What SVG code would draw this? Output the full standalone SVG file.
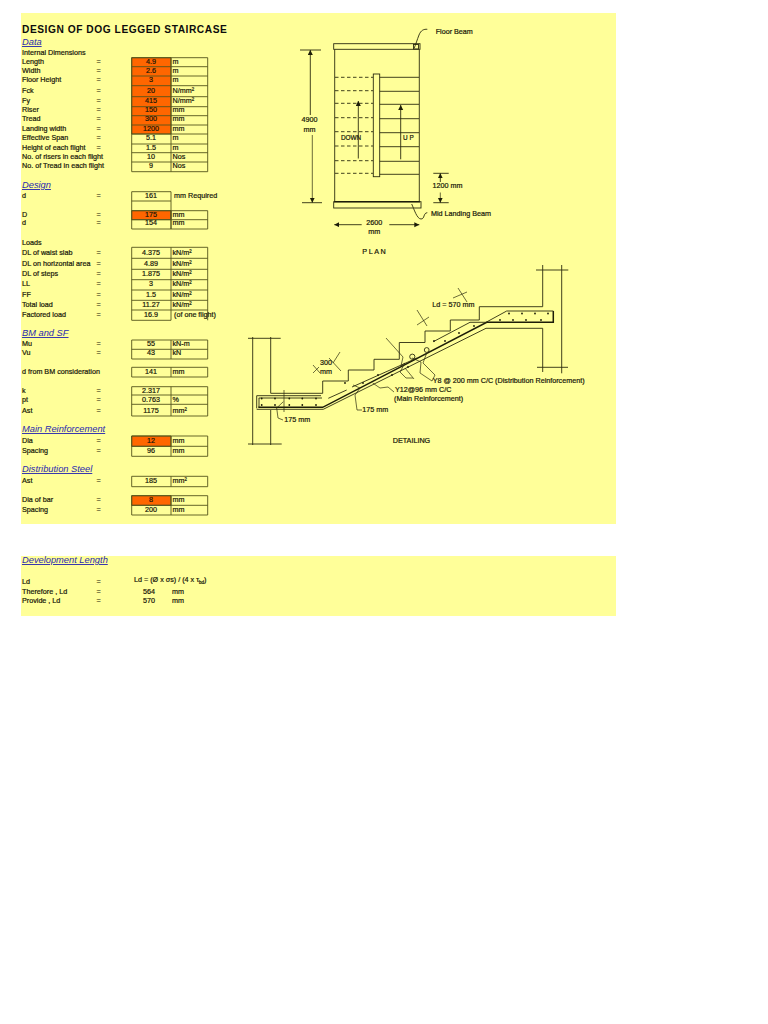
<svg xmlns="http://www.w3.org/2000/svg" width="768" height="1024" viewBox="0 0 768 1024">
<style>
text{font-family:"Liberation Sans",Arial,sans-serif;font-size:7.2px;fill:#161608;stroke:#161608;stroke-width:.2}
.c{text-anchor:middle}
.h{font-size:9.3px;font-style:italic;fill:#2a2ab0;stroke:none;text-decoration:underline}
.t{font-size:10.2px;font-weight:bold;stroke:none;fill:#0c0c0c;letter-spacing:.55px}
.d{font-size:6.4px}
.a{fill:#ff6600;stroke:#55551c;stroke-width:.9}
.n{fill:none;stroke:#55551c;stroke-width:.9}
.l{fill:none;stroke:#2c2c10;stroke-width:.9}
.k{fill:none;stroke:#1c1c08;stroke-width:1.5}
.s{fill:none;stroke:#2c2c10;stroke-width:.7}
.w{fill:none;stroke:#2c2c10;stroke-width:.9;stroke-dasharray:3.5 2.5}
.o{fill:#1c1c08;stroke:none}
</style>
<defs>
<marker id="ah" markerWidth="6" markerHeight="6" refX="5" refY="2.5" orient="auto-start-reverse" markerUnits="userSpaceOnUse"><path d="M0 0L5 2.5L0 5Z" fill="#1c1c08"/></marker>
</defs>
<rect width="768" height="1024" fill="#fff"/>
<rect x="21" y="13" width="595" height="511" fill="#ffff99"/>
<rect x="21" y="556" width="595" height="60" fill="#ffff99"/>

<g id="tables">
<path class="a" d="M131.7 57.7H171V134H131.7Z"/>
<path class="a" d="M131.7 210.7H171V219.7H131.7ZM131.7 436H171V446.3H131.7ZM131.7 495.7H171V505.3H131.7Z"/>
<path class="n" d="M131.7 57.7H207.7V171.7H131.7ZM171 57.7V171.7M131.7 66.7H207.7M131.7 76H207.7M131.7 85.7H207.7M131.7 96.7H207.7M131.7 106.7H207.7M131.7 115.7H207.7M131.7 125H207.7M131.7 134H207.7M131.7 144H207.7M131.7 152.7H207.7M131.7 162H207.7"/>
<path class="n" d="M131.7 191.7H171V229H131.7ZM131.7 201H171M131.7 210.7H207.7V229H171M171 210.7V229M131.7 219.7H207.7"/>
<path class="n" d="M131.7 247.3H207.7V320.3M131.7 247.3V320.3H171V247.3M131.7 258.3H207.7M131.7 269.3H207.7M131.7 279.7H207.7M131.7 290H207.7M131.7 300.3H207.7M131.7 310H207.7"/>
<path class="n" d="M131.7 340H207.7V359H131.7ZM171 340V359M131.7 349.3H207.7"/>
<path class="n" d="M131.7 367.3H207.7V377H131.7ZM171 367.3V377"/>
<path class="n" d="M131.7 386.7H207.7V416H131.7ZM171 386.7V416M131.7 395H207.7M131.7 404.3H207.7"/>
<path class="n" d="M131.7 436H207.7V456.3H131.7ZM171 436V456.3M131.7 446.3H207.7"/>
<path class="n" d="M131.7 476.3H207.7V486.7H131.7ZM171 476.3V486.7"/>
<path class="n" d="M131.7 495.7H207.7V515H131.7ZM171 495.7V515M131.7 505.3H207.7"/>
</g>

<g id="headings">
<text class="t" x="22" y="33">DESIGN OF DOG LEGGED STAIRCASE</text>
<text class="h" x="22" y="45">Data</text>
<text class="h" x="22" y="188">Design</text>
<text class="h" x="22" y="336">BM and SF</text>
<text class="h" x="22" y="432">Main Reinforcement</text>
<text class="h" x="22" y="472">Distribution Steel</text>
<text class="h" x="22" y="563">Development Length</text>
</g>

<g id="labels">
<text x="22" y="54.5">Internal Dimensions</text>
<text x="22" y="63.5">Length</text><text x="22" y="72.5">Width</text><text x="22" y="81.8">Floor Height</text><text x="22" y="93">Fck</text><text x="22" y="103">Fy</text><text x="22" y="112.3">Riser</text><text x="22" y="121">Tread</text><text x="22" y="131">Landing width</text><text x="22" y="140.3">Effective Span</text><text x="22" y="149.5">Height of each flight</text><text x="22" y="158.5">No. of risers in each flight</text><text x="22" y="167.5">No. of Tread in each flight</text>
<text x="22" y="198">d</text><text x="22" y="216.5">D</text><text x="22" y="225">d</text><text x="22" y="244.5">Loads</text>
<text x="22" y="254.8">DL of waist slab</text><text x="22" y="266">DL on horizontal area</text><text x="22" y="276">DL of steps</text><text x="22" y="285.8">LL</text><text x="22" y="296.8">FF</text><text x="22" y="307">Total load</text><text x="22" y="316.5">Factored load</text>
<text x="22" y="345.8">Mu</text><text x="22" y="355">Vu</text><text x="22" y="374">d from BM consideration</text><text x="22" y="392.5">k</text><text x="22" y="401.8">pt</text><text x="22" y="412.5">Ast</text>
<text x="22" y="443">Dia</text><text x="22" y="453">Spacing</text><text x="22" y="483">Ast</text><text x="22" y="501.5">Dia of bar</text><text x="22" y="511.5">Spacing</text>
<text x="22" y="584">Ld</text><text x="22" y="593.5">Therefore , Ld</text><text x="22" y="602.5">Provide , Ld</text>
</g>

<g id="equals">
<text x="96.5" y="63.5">=</text><text x="96.5" y="72.5">=</text><text x="96.5" y="81.8">=</text><text x="96.5" y="93">=</text><text x="96.5" y="103">=</text><text x="96.5" y="112.3">=</text><text x="96.5" y="121">=</text><text x="96.5" y="131">=</text><text x="96.5" y="140.3">=</text><text x="96.5" y="149.5">=</text>
<text x="96.5" y="198">=</text><text x="96.5" y="216.5">=</text><text x="96.5" y="225">=</text><text x="96.5" y="254.8">=</text><text x="96.5" y="266">=</text><text x="96.5" y="276">=</text><text x="96.5" y="285.8">=</text><text x="96.5" y="296.8">=</text><text x="96.5" y="307">=</text><text x="96.5" y="316.5">=</text>
<text x="96.5" y="345.8">=</text><text x="96.5" y="355">=</text><text x="96.5" y="392.5">=</text><text x="96.5" y="401.8">=</text><text x="96.5" y="412.5">=</text><text x="96.5" y="443">=</text><text x="96.5" y="453">=</text><text x="96.5" y="483">=</text><text x="96.5" y="501.5">=</text><text x="96.5" y="511.5">=</text>
<text x="96.5" y="584">=</text><text x="96.5" y="593.5">=</text><text x="96.5" y="602.5">=</text>
</g>

<g id="values">
<text class="c" x="151" y="63.5">4.9</text><text class="c" x="151" y="72.5">2.6</text><text class="c" x="151" y="81.8">3</text><text class="c" x="151" y="93">20</text><text class="c" x="151" y="103">415</text><text class="c" x="151" y="112.3">150</text><text class="c" x="151" y="121">300</text><text class="c" x="151" y="131">1200</text><text class="c" x="151" y="140.3">5.1</text><text class="c" x="151" y="149.5">1.5</text><text class="c" x="151" y="158.5">10</text><text class="c" x="151" y="167.5">9</text>
<text class="c" x="151" y="198">161</text><text class="c" x="151" y="216.5">175</text><text class="c" x="151" y="225">154</text>
<text class="c" x="151" y="254.8">4.375</text><text class="c" x="151" y="266">4.89</text><text class="c" x="151" y="276">1.875</text><text class="c" x="151" y="285.8">3</text><text class="c" x="151" y="296.8">1.5</text><text class="c" x="151" y="307">11.27</text><text class="c" x="151" y="316.5">16.9</text>
<text class="c" x="151" y="345.8">55</text><text class="c" x="151" y="355">43</text><text class="c" x="151" y="374">141</text><text class="c" x="151" y="392.5">2.317</text><text class="c" x="151" y="401.8">0.763</text><text class="c" x="151" y="412.5">1175</text>
<text class="c" x="151" y="443">12</text><text class="c" x="151" y="453">96</text><text class="c" x="151" y="483">185</text><text class="c" x="151" y="501.5">8</text><text class="c" x="151" y="511.5">200</text>
<text x="134" y="582">Ld = (Ø x σs) / (4 x τ<tspan font-size="4.5" dy="1.5">bd</tspan><tspan dy="-1.5">)</tspan></text>
<text class="c" x="149" y="593.5">564</text><text class="c" x="149" y="602.5">570</text>
</g>

<g id="units">
<text x="172.5" y="63.5">m</text><text x="172.5" y="72.5">m</text><text x="172.5" y="81.8">m</text><text x="172.5" y="93">N/mm²</text><text x="172.5" y="103">N/mm²</text><text x="172.5" y="112.3">mm</text><text x="172.5" y="121">mm</text><text x="172.5" y="131">mm</text><text x="172.5" y="140.3">m</text><text x="172.5" y="149.5">m</text><text x="172.5" y="158.5">Nos</text><text x="172.5" y="167.5">Nos</text>
<text x="174" y="198">mm Required</text><text x="172.5" y="216.5">mm</text><text x="172.5" y="225">mm</text>
<text x="172.5" y="254.8">kN/m²</text><text x="172.5" y="266">kN/m²</text><text x="172.5" y="276">kN/m²</text><text x="172.5" y="285.8">kN/m²</text><text x="172.5" y="296.8">kN/m²</text><text x="172.5" y="307">kN/m²</text><text x="174" y="316.5">(of one flight)</text>
<text x="172.5" y="345.8">kN-m</text><text x="172.5" y="355">kN</text><text x="172.5" y="374">mm</text><text x="172.5" y="401.8">%</text><text x="172.5" y="412.5">mm²</text>
<text x="172.5" y="443">mm</text><text x="172.5" y="453">mm</text><text x="172.5" y="483">mm²</text><text x="172.5" y="501.5">mm</text><text x="172.5" y="511.5">mm</text>
<text x="172" y="593.5">mm</text><text x="172" y="602.5">mm</text>
</g>

<g id="plan">
<rect class="l" x="333.7" y="43.7" width="86.3" height="5.6"/>
<rect class="l" x="333.7" y="201.7" width="87.3" height="6.3"/>
<path class="k" d="M334 201.7H420"/>
<path class="l" d="M334.7 49.3V201.7M419.3 49.3V201.7"/>
<rect class="l" x="373.3" y="74" width="6.4" height="102.7"/>
<path class="w" d="M335 77.3H373M335 90.7H373M335 103.3H373M335 117.7H373M335 131.7H373M335 146H373M335 160.7H373M335 173.3H373"/>
<path class="l" d="M379.7 77.3H419M379.7 91.3H419M379.7 104.3H419M379.7 118.7H419M379.7 132.7H419M379.7 146.7H419M379.7 161.3H419M379.7 174.3H419"/>
<path class="l" marker-end="url(#ah)" d="M358.3 158.5V101"/>
<path class="l" marker-end="url(#ah)" d="M400.7 159.3V105"/>
<text class="d" x="341" y="140.3">DOWN</text><text class="d" x="403" y="140.3">U P</text>
<path class="l" d="M300 50H321M302 202.7H322M433.3 173.3H448.7M433.3 202.7H448.7"/>
<path class="l" marker-start="url(#ah)" d="M310.3 50V115"/>
<path class="s" marker-end="url(#ah)" d="M312.3 135V202.7"/>
<path class="l" marker-start="url(#ah)" d="M440.3 173.3V182"/>
<path class="s" marker-end="url(#ah)" d="M440.3 192.5V202.7"/>
<path class="l" marker-start="url(#ah)" d="M334.3 224.7H361.7"/>
<path class="l" marker-end="url(#ah)" d="M389.3 224.7H419.3"/>
<path class="l" d="M414 48.5C416 44 417 40 419 35C421 30 424 29 427.3 29.3M411.7 204C414 209 417 219 421 219C425 219 423 213 427.3 212.7"/>
<rect class="l" x="413.5" y="44.5" width="5" height="4.5"/>
<text class="c" x="309.5" y="121.5">4900</text><text class="c" x="309.5" y="131.5">mm</text>
<text x="432.6" y="188">1200 mm</text>
<text class="c" x="374.3" y="225">2600</text><text class="c" x="374.3" y="234.3">mm</text>
<text class="c" x="374" y="254">P L A N</text>
<text x="435.7" y="34">Floor Beam</text>
<text x="431" y="215.5">Mid Landing Beam</text>
</g>

<g id="detailing">
<path class="l" d="M252.7 337V445M270.7 337V393.3M270.7 410V445M248 338.3H280.7M248 444H281.7"/>
<path class="l" d="M270.7 393.3H322.7V381H348.3V370H374V359.3H399.3V342.5H425V331H450.3V320H479.3V306.7H542.7V265M542.7 328.3V372M561.7 265V373.3M536 270H568.3M537 367.3H568"/>
<path class="l" d="M256.7 395.7V408.3M256.7 395.7H321"/>
<path class="l" d="M256.7 409.3H323.3L486 328.3H542.7"/>
<path class="k" d="M258.3 407.3H322.7L486.7 322.3H553.3V311"/>
<path class="l" d="M328.3 398.3L346.7 390M352 387L417 358M433.3 341.7L470 322.3H486L506.7 311H553.3"/>
<path class="l" d="M258.8 398H322M259 398V407"/>
<g class="dots">
<circle class="o" cx="261.7" cy="398.5" r=".9"/><circle class="o" cx="275" cy="398.5" r=".9"/><circle class="o" cx="289.3" cy="398.5" r=".9"/><circle class="o" cx="302.3" cy="398.5" r=".9"/><circle class="o" cx="316" cy="398.5" r=".9"/>
<circle class="o" cx="261.7" cy="405" r=".9"/><circle class="o" cx="275" cy="405" r=".9"/><circle class="o" cx="289.3" cy="405" r=".9"/><circle class="o" cx="302.3" cy="405" r=".9"/><circle class="o" cx="316" cy="405" r=".9"/>
<circle class="o" cx="345" cy="383" r=".9"/><circle class="o" cx="363" cy="383" r=".9"/><circle class="o" cx="378" cy="375" r=".9"/><circle class="o" cx="392" cy="375" r=".9"/><circle class="o" cx="408" cy="367" r=".9"/><circle class="o" cx="434" cy="341" r=".9"/><circle class="o" cx="445" cy="341" r=".9"/><circle class="o" cx="459" cy="333" r=".9"/><circle class="o" cx="474" cy="326" r=".9"/>
<circle class="o" cx="500" cy="320" r=".9"/><circle class="o" cx="513" cy="320" r=".9"/><circle class="o" cx="526" cy="320" r=".9"/><circle class="o" cx="541" cy="320" r=".9"/>
<circle class="o" cx="522" cy="313.5" r=".9"/><circle class="o" cx="535" cy="313.5" r=".9"/><circle class="o" cx="548" cy="313.5" r=".9"/><circle class="o" cx="509" cy="313.5" r=".9"/>
</g>
<path class="s" d="M333 363L340 352M329 358L341 371M313 365L320 373M313 373L319 367M417 310L427 326M417 325L429 317M458 288L467 302M453 298L467 292"/>
<path class="s" d="M386 338L403 357M403 357L401 366L405 363L400 372L406 378L413 378M405 368L414 379"/>
<circle class="l" cx="412.3" cy="356.7" r="2.6"/><circle class="l" cx="426.7" cy="350" r="2.4"/>
<path class="s" d="M412 358L421 362L420 373L432 381M426.7 353L423 363L435 375L432 381M372.7 383L380 388L388 387L394 392M353 385L360 388L355 395L357 410L362 410M283.3 401.7L276.7 408L278 418L283 420M284 390V412"/>
<text class="c" x="326" y="365">300</text><text class="c" x="326" y="374">mm</text>
<text x="284.3" y="421.5">175 mm</text>
<text x="362.3" y="412.3">175 mm</text>
<text x="432.3" y="307">Ld = 570 mm</text>
<text x="395" y="392">Y12@96 mm C/C</text>
<text x="394" y="401">(Main Reinforcement)</text>
<text x="432.7" y="383">Y8 @ 200 mm C/C (Distribution Reinforcement)</text>
<text class="c" x="411.5" y="442.5">DETAILING</text>
</g>
</svg>
